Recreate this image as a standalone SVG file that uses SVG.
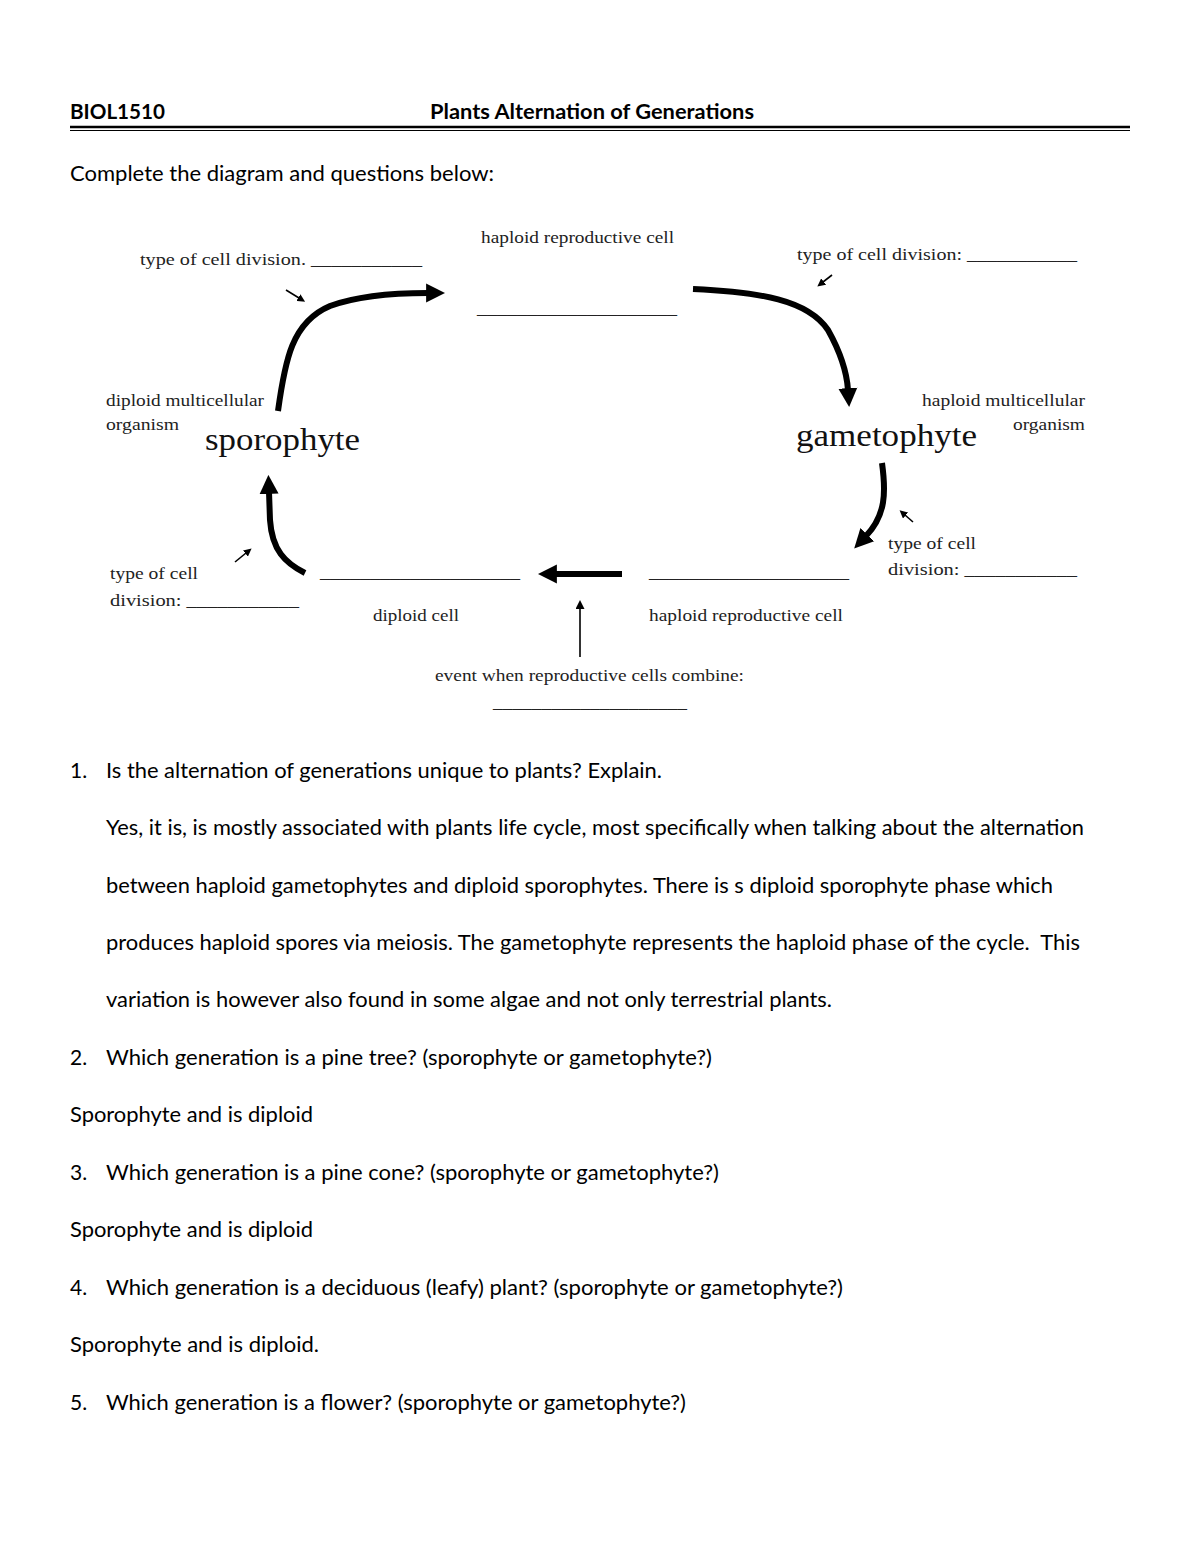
<svg xmlns="http://www.w3.org/2000/svg" width="1200" height="1553" viewBox="0 0 1200 1553">
<style>
.sans{font-family:Lato,"Open Sans","Liberation Sans",sans-serif;font-size:21px;fill:#000}
.b{font-weight:bold}
.serif{font-family:"Liberation Serif","DejaVu Serif",serif;font-size:17px;fill:#222}
.big{font-family:"Liberation Serif","DejaVu Serif",serif;font-size:31px;fill:#111}
.thick{fill:none;stroke:#000;stroke-width:6}
.thin{fill:none;stroke:#000;stroke-width:1.6}
</style>
<defs>
<marker id="bighead" viewBox="0 0 10 10" refX="1" refY="5" markerUnits="userSpaceOnUse" markerWidth="19" markerHeight="20" orient="auto"><path d="M0,0 L10,5 L0,10 z" fill="#000"/></marker>
<marker id="smallhead" viewBox="0 0 10 10" refX="1" refY="5" markerUnits="userSpaceOnUse" markerWidth="8" markerHeight="8" orient="auto"><path d="M0,0 L10,5 L0,10 z" fill="#000"/></marker>
<marker id="thinhead" viewBox="0 0 10 10" refX="1" refY="5" markerUnits="userSpaceOnUse" markerWidth="10" markerHeight="9" orient="auto"><path d="M0,0 L10,5 L0,10 z" fill="#000"/></marker>
</defs>
<rect width="1200" height="1553" fill="#fff"/>

<g id="header">
<text class="sans b" x="70" y="119" textLength="95" lengthAdjust="spacingAndGlyphs">BIOL1510</text>
<text class="sans b" x="430" y="119" textLength="324" lengthAdjust="spacingAndGlyphs">Plants Alternation of Generations</text>
<line x1="70" y1="127" x2="1130" y2="127" stroke="#000" stroke-width="2.5"/>
<line x1="70" y1="130.5" x2="1130" y2="130.5" stroke="#000" stroke-width="1"/>
<text class="sans" x="70" y="181" textLength="424" lengthAdjust="spacingAndGlyphs">Complete the diagram and questions below:</text>
</g>

<g id="connectors">
<path class="thick" d="M278,411 C285,360 292,322 330,306 C360,295 395,293 428,293" marker-end="url(#bighead)"/>
<path class="thick" d="M693,289 C760,292 808,300 828,330 C842,355 847,375 848,390" marker-end="url(#bighead)"/>
<path class="thick" d="M882,463 C886,492 886,515 866,536" marker-end="url(#bighead)"/>
<path class="thick" d="M305,573 C285,563 272,550 270,520 L269,492" marker-end="url(#bighead)"/>
<path class="thick" d="M622,574 L555,574" marker-end="url(#bighead)"/>
<path class="thin" d="M580,657 L580,608" marker-end="url(#thinhead)"/>
<path class="thin" d="M286,290 L299,298" marker-end="url(#smallhead)"/>
<path class="thin" d="M832,275 L823,282" marker-end="url(#smallhead)"/>
<path class="thin" d="M913,522 L905,515" marker-end="url(#smallhead)"/>
<path class="thin" d="M235,562 L246,553" marker-end="url(#smallhead)"/>
</g>

<g id="node-top-left-division">
<text class="serif" x="140" y="265" textLength="282" lengthAdjust="spacingAndGlyphs">type of cell division. ___________</text>
</g>
<g id="node-top-cell">
<text class="serif" x="481" y="243" textLength="193" lengthAdjust="spacingAndGlyphs">haploid reproductive cell</text>
<text class="serif" x="477" y="314" textLength="200" lengthAdjust="spacingAndGlyphs">____________________</text>
</g>
<g id="node-top-right-division">
<text class="serif" x="797" y="260" textLength="280" lengthAdjust="spacingAndGlyphs">type of cell division: ___________</text>
</g>
<g id="node-sporophyte">
<text class="serif" x="106" y="406" textLength="158" lengthAdjust="spacingAndGlyphs">diploid multicellular</text>
<text class="serif" x="106" y="430" textLength="73" lengthAdjust="spacingAndGlyphs">organism</text>
<text class="big" x="205" y="450" textLength="155" lengthAdjust="spacingAndGlyphs">sporophyte</text>
</g>
<g id="node-gametophyte">
<text class="serif" x="922" y="406" textLength="163" lengthAdjust="spacingAndGlyphs">haploid multicellular</text>
<text class="serif" x="1013" y="430" textLength="72" lengthAdjust="spacingAndGlyphs">organism</text>
<text class="big" x="796" y="446" textLength="181" lengthAdjust="spacingAndGlyphs">gametophyte</text>
</g>
<g id="node-right-division">
<text class="serif" x="888" y="549" textLength="88" lengthAdjust="spacingAndGlyphs">type of cell</text>
<text class="serif" x="888" y="575" textLength="189" lengthAdjust="spacingAndGlyphs">division: ___________</text>
</g>
<g id="node-left-division">
<text class="serif" x="110" y="579" textLength="88" lengthAdjust="spacingAndGlyphs">type of cell</text>
<text class="serif" x="110" y="606" textLength="189" lengthAdjust="spacingAndGlyphs">division: ___________</text>
</g>
<g id="node-diploid-cell">
<text class="serif" x="320" y="578" textLength="200" lengthAdjust="spacingAndGlyphs">____________________</text>
<text class="serif" x="373" y="621" textLength="86" lengthAdjust="spacingAndGlyphs">diploid cell</text>
</g>
<g id="node-bottom-haploid-cell">
<text class="serif" x="649" y="578" textLength="200" lengthAdjust="spacingAndGlyphs">____________________</text>
<text class="serif" x="649" y="621" textLength="194" lengthAdjust="spacingAndGlyphs">haploid reproductive cell</text>
</g>
<g id="node-event">
<text class="serif" x="435" y="681" textLength="309" lengthAdjust="spacingAndGlyphs">event when reproductive cells combine:</text>
<text class="serif" x="493" y="708" textLength="194" lengthAdjust="spacingAndGlyphs">____________________</text>
</g>

<g id="questions">
<text class="sans" x="70" y="778">1.</text>
<text class="sans" x="106" y="778" textLength="556" lengthAdjust="spacingAndGlyphs">Is the alternation of generations unique to plants? Explain.</text>
<text class="sans" x="106" y="835" textLength="978" lengthAdjust="spacingAndGlyphs">Yes, it is, is mostly associated with plants life cycle, most specifically when talking about the alternation</text>
<text class="sans" x="106" y="893" textLength="947" lengthAdjust="spacingAndGlyphs">between haploid gametophytes and diploid sporophytes. There is s diploid sporophyte phase which</text>
<text class="sans" x="106" y="950" textLength="974" lengthAdjust="spacingAndGlyphs" xml:space="preserve">produces haploid spores via meiosis. The gametophyte represents the haploid phase of the cycle.  This</text>
<text class="sans" x="106" y="1007" textLength="726" lengthAdjust="spacingAndGlyphs">variation is however also found in some algae and not only terrestrial plants.</text>
<text class="sans" x="70" y="1065">2.</text>
<text class="sans" x="106" y="1065" textLength="606" lengthAdjust="spacingAndGlyphs">Which generation is a pine tree? (sporophyte or gametophyte?)</text>
<text class="sans" x="70" y="1122" textLength="243" lengthAdjust="spacingAndGlyphs">Sporophyte and is diploid</text>
<text class="sans" x="70" y="1180">3.</text>
<text class="sans" x="106" y="1180" textLength="613" lengthAdjust="spacingAndGlyphs">Which generation is a pine cone? (sporophyte or gametophyte?)</text>
<text class="sans" x="70" y="1237" textLength="243" lengthAdjust="spacingAndGlyphs">Sporophyte and is diploid</text>
<text class="sans" x="70" y="1295">4.</text>
<text class="sans" x="106" y="1295" textLength="737" lengthAdjust="spacingAndGlyphs">Which generation is a deciduous (leafy) plant? (sporophyte or gametophyte?)</text>
<text class="sans" x="70" y="1352" textLength="249" lengthAdjust="spacingAndGlyphs">Sporophyte and is diploid.</text>
<text class="sans" x="70" y="1410">5.</text>
<text class="sans" x="106" y="1410" textLength="580" lengthAdjust="spacingAndGlyphs">Which generation is a flower? (sporophyte or gametophyte?)</text>
</g>
</svg>
